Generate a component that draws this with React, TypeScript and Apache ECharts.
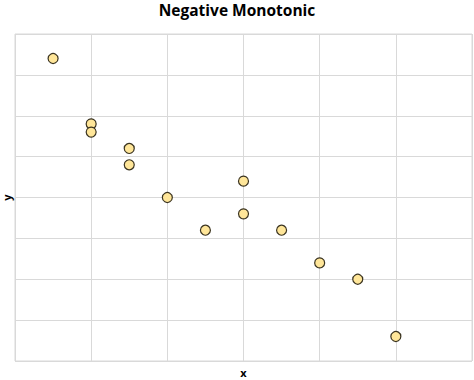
import React, { useEffect, useRef } from "react";
import * as echarts from "echarts";

// Observed (x, y) pairs for the scatter
const xValues = [0.5, 1, 1, 1.5, 1.5, 2, 2.5, 3, 3, 3.5, 4, 4.5, 5];
const yValues = [7.4, 5.8, 5.6, 5.2, 4.8, 4.0, 3.2, 4.4, 3.6, 3.2, 2.4, 2.0, 0.6];

const xRange = { min: 0, max: 6, interval: 1 };
const yRange = { min: 0, max: 8, interval: 1 };

const gridColor = "#d9d9d9";

export default function App() {
  const ref = useRef<HTMLDivElement>(null);

  useEffect(() => {
    document.body.style.margin = "0";
    if (!ref.current) return;
    const chart = echarts.init(ref.current, undefined, { renderer: "svg" });
    const points = xValues.map((x, i) => [x, yValues[i]]);
    chart.setOption({
      animation: false,
      backgroundColor: "#ffffff",
      title: {
        text: "Negative Monotonic",
        left: "center",
        top: -3,
        textStyle: {
          fontFamily: "Open Sans",
          fontWeight: "bold",
          fontSize: 15.5,
          color: "#000000",
        },
      },
      grid: {
        left: 15,
        right: 2,
        top: 34,
        bottom: 19,
        outerBoundsMode: "none",
        containLabel: false,
        show: true,
        borderColor: gridColor,
        borderWidth: 1,
      },
      xAxis: {
        type: "value",
        min: xRange.min,
        max: xRange.max,
        interval: xRange.interval,
        name: "x",
        nameLocation: "middle",
        nameGap: 6,
        nameTextStyle: {
          fontFamily: "Open Sans",
          fontWeight: "bold",
          fontSize: 11,
          color: "#000000",
        },
        axisLine: { show: false },
        axisTick: { show: false },
        axisLabel: { show: false },
        splitLine: { show: true, lineStyle: { color: gridColor, width: 1 } },
      },
      yAxis: {
        type: "value",
        min: yRange.min,
        max: yRange.max,
        interval: yRange.interval,
        name: "y",
        nameLocation: "middle",
        nameRotate: 90,
        nameGap: 3,
        nameTextStyle: {
          fontFamily: "Open Sans",
          fontWeight: "bold",
          fontSize: 11,
          color: "#000000",
        },
        axisLine: { show: false },
        axisTick: { show: false },
        axisLabel: { show: false },
        splitLine: { show: true, lineStyle: { color: gridColor, width: 1 } },
      },
      series: [
        {
          type: "scatter",
          data: points,
          symbol: "circle",
          symbolSize: 10,
          itemStyle: {
            color: "#ffe699",
            borderColor: "#3a3320",
            borderWidth: 1.2,
            opacity: 1,
          },
        },
      ],
    });
    return () => chart.dispose();
  }, []);

  return <div ref={ref} style={{ width: 474, height: 380 }} />;
}
